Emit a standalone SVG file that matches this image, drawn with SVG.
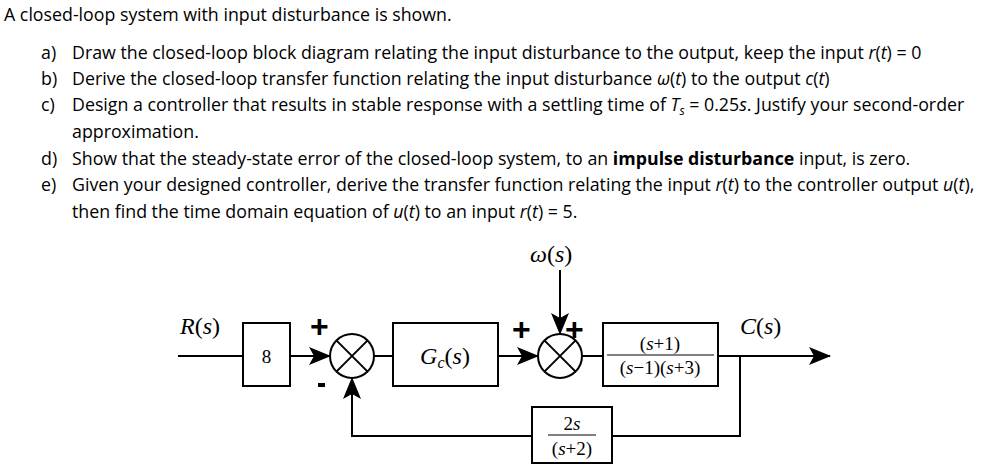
<svg xmlns="http://www.w3.org/2000/svg" width="994" height="470" viewBox="0 0 994 470">
<defs>
<marker id="ab" markerWidth="22" markerHeight="18" refX="21" refY="9" orient="auto" markerUnits="userSpaceOnUse" viewBox="0 0 22 18"><path d="M0,0 L22,9 L0,18 L5,9 Z" fill="#000"/></marker></defs>
<style>
.t{font-family:"Open Sans","Liberation Sans",sans-serif;font-size:17.8px;fill:#000}
.m{font-family:"Liberation Serif",serif;font-size:24px;fill:#000}
.f{font-family:"Liberation Serif",serif;font-size:19px;fill:#000}
.b{fill:#fff;stroke:#000;stroke-width:2}
.l{fill:none;stroke:#000;stroke-width:2}
.s{font-family:"Liberation Sans",sans-serif;font-size:32px;font-weight:bold}
</style>
<g id="text" class="t">
<text x="4" y="21">A closed-loop system with input disturbance is shown.</text>
<text x="41" y="59">a)</text><text x="72" y="59">Draw the closed-loop block diagram relating the input disturbance to the output, keep the input <tspan font-style="italic">r</tspan>(<tspan font-style="italic">t</tspan>) = 0</text>
<text x="41" y="85">b)</text><text x="72" y="85">Derive the closed-loop transfer function relating the input disturbance <tspan font-style="italic">ω</tspan>(<tspan font-style="italic">t</tspan>) to the output <tspan font-style="italic">c</tspan>(<tspan font-style="italic">t</tspan>)</text>
<text x="41" y="111">c)</text><text x="72" y="111">Design a controller that results in stable response with a settling time of <tspan font-style="italic">T<tspan font-size="12" dy="4">s</tspan></tspan><tspan dy="-4"> = 0.25</tspan><tspan font-style="italic">s</tspan>. Justify your second-order</text>
<text x="72" y="138">approximation.</text>
<text x="41" y="165">d)</text><text x="72" y="165">Show that the steady-state error of the closed-loop system, to an <tspan font-weight="bold">impulse disturbance</tspan> input, is zero.</text>
<text x="41" y="191">e)</text><text x="72" y="191">Given your designed controller, derive the transfer function relating the input <tspan font-style="italic">r</tspan>(<tspan font-style="italic">t</tspan>) to the controller output <tspan font-style="italic">u</tspan>(<tspan font-style="italic">t</tspan>),</text>
<text x="72" y="218">then find the time domain equation of <tspan font-style="italic">u</tspan>(<tspan font-style="italic">t</tspan>) to an input <tspan font-style="italic">r</tspan>(<tspan font-style="italic">t</tspan>) = 5.</text>
</g>
<g id="connectors">
<path class="l" d="M178,356 H243"/>
<path class="l" d="M290,356 H330" marker-end="url(#ab)"/>
<path class="l" d="M374,356 H393"/>
<path class="l" d="M498,356 H538" marker-end="url(#ab)"/>
<path class="l" d="M582,356 H603"/>
<path class="l" d="M718,356 H830" marker-end="url(#ab)"/>
<path class="l" d="M740,356 V436 H612"/>
<path class="l" d="M532,436 H352 V378" marker-end="url(#ab)"/>
<path class="l" d="M560,270 V334" marker-end="url(#ab)"/>
</g>
<g id="labels">
<text class="m" x="180" y="334"><tspan font-style="italic">R</tspan>(<tspan font-style="italic">s</tspan>)</text>
<text class="m" x="740" y="334"><tspan font-style="italic">C</tspan>(<tspan font-style="italic">s</tspan>)</text>
<text class="m" x="530" y="262"><tspan font-style="italic">ω</tspan>(<tspan font-style="italic">s</tspan>)</text>
<text class="s" x="310" y="337">+</text>
<rect x="318" y="383" width="7" height="4" fill="#000"/>
<text class="s" x="512" y="340">+</text>
<text class="s" x="565" y="340">+</text>
</g>
<g id="gain"><rect class="b" x="243" y="323" width="47" height="63"/><text class="f" x="266.5" y="363" text-anchor="middle">8</text></g>
<g id="sum1"><circle class="b" cx="352" cy="356" r="22"/><path class="l" d="M336.4,340.4 L367.6,371.6 M367.6,340.4 L336.4,371.6"/></g>
<g id="controller"><rect class="b" x="393" y="323" width="105" height="63"/><text class="m" x="445" y="364" text-anchor="middle"><tspan font-style="italic">G</tspan><tspan font-style="italic" font-size="16" dy="4">c</tspan><tspan dy="-4">(</tspan><tspan font-style="italic">s</tspan>)</text></g>
<g id="sum2"><circle class="b" cx="560" cy="356" r="22"/><path class="l" d="M544.4,340.4 L575.6,371.6 M575.6,340.4 L544.4,371.6"/></g>
<g id="plant"><rect class="b" x="603" y="323" width="115" height="63"/>
<text class="f" x="660" y="350" text-anchor="middle">(<tspan font-style="italic">s</tspan>+1)</text>
<line x1="607" y1="355" x2="714" y2="355" stroke="#000" stroke-width="1"/>
<text class="f" x="660" y="374" text-anchor="middle">(<tspan font-style="italic">s</tspan>−1)(<tspan font-style="italic">s</tspan>+3)</text></g>
<g id="feedback"><rect class="b" x="532" y="407" width="80" height="56"/>
<text class="f" x="572" y="430" text-anchor="middle">2<tspan font-style="italic">s</tspan></text>
<line x1="548" y1="435" x2="596" y2="435" stroke="#000" stroke-width="1"/>
<text class="f" x="572" y="455" text-anchor="middle">(<tspan font-style="italic">s</tspan>+2)</text></g>
</svg>
